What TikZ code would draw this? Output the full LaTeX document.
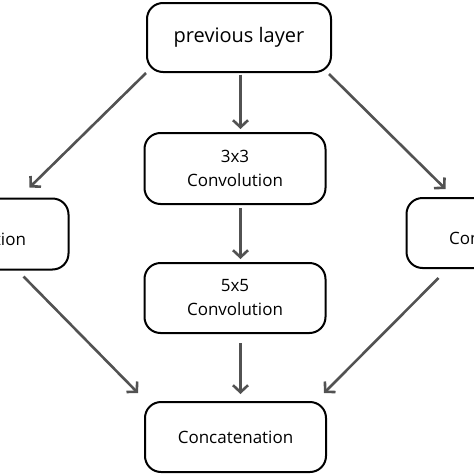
\documentclass[tikz,border=0pt]{standalone}
\usepackage{fontspec}
\setmainfont{Open Sans}
\usetikzlibrary{arrows.meta,calc}
\tikzset{
  box/.style={draw=black, line width=2pt, rounded corners=16pt, fill=white,
    minimum width=181pt, minimum height=70pt, align=center,
    font=\fontsize{17pt}{24pt}\selectfont, inner sep=0pt},
  conn/.style={draw=black!68, line width=2.6pt,
    -{Straight Barb[length=7pt,width=15pt,line width=2.6pt]}}
}
\begin{document}
\begin{tikzpicture}[x=1pt,y=-1pt]
\useasboundingbox (0,0) rectangle (474,474);
\clip (0,0) rectangle (474,474);
\node[box, minimum width=184pt, minimum height=69pt, font=\fontsize{20pt}{24pt}\selectfont] (prev) at (239,37.5) {previous layer};
\node[box, minimum height=71pt] (c3) at (235,168.5) {3x3\\Convolution};
\node[box] (c5) at (235,298) {5x5\\Convolution};
\node[box] (cat) at (235.5,437) {Concatenation};
\node[box, minimum height=71pt] (left) at (-22,234) {\mbox{}\\Convolution};
\node[box] (right) at (497,233) {\mbox{}\\Convolution};
\draw[conn] (prev.south west) -- ($(left.north east)+(-40,-10)$);
\draw[conn] ($(prev.south east)+(-3,1)$) -- ($(right.north west)+(40,-8)$);
\draw[conn] ($(prev.south)+(1.5,1.5)$) -- ($(c3.north)+(5.5,-3)$);
\draw[conn] ($(c3.south)+(5.5,3)$) -- ($(c5.north)+(5.5,-3)$);
\draw[conn] ($(c5.south)+(5.5,9)$) -- ($(cat.north)+(5,-7)$);
\draw[conn] ($(left.south east)+(-46,6)$) -- ($(cat.north west)+(-6,-8)$);
\draw[conn] ($(right.south west)+(33,9)$) -- ($(cat.north east)+(-3,-8)$);
\end{tikzpicture}
\end{document}
